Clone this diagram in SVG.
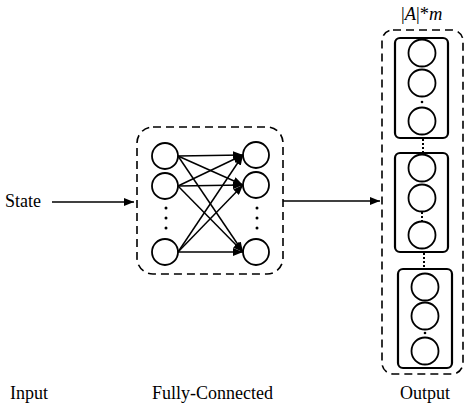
<svg xmlns="http://www.w3.org/2000/svg" width="474" height="410" viewBox="0 0 474 410">
<style>
text{font-family:"Liberation Serif","Times New Roman",serif;font-size:18px;fill:#000}
.it{font-style:italic}
.dash{fill:none;stroke:#000;stroke-width:1.6;stroke-dasharray:8 5}
.box{fill:#fff;stroke:#000;stroke-width:2.2}
.node{fill:#fff;stroke:#000;stroke-width:1.8}
.edge{fill:none;stroke:#000;stroke-width:1.5}
.dots{fill:none;stroke:#000;stroke-width:2;stroke-dasharray:2 2}
.dot{fill:#000}
</style>
<defs>
<marker id="ah" markerUnits="userSpaceOnUse" markerWidth="11" markerHeight="8" refX="10" refY="4" orient="auto">
<path d="M0,0 L10,4 L0,8 Z" fill="#000"/>
</marker>
</defs>
<rect width="474" height="410" fill="#fff"/>

<g id="input">
<text x="5" y="207">State</text>
<text x="10" y="399">Input</text>
</g>

<g id="fully-connected">
<rect class="dash" x="137" y="127" width="146" height="147" rx="16"/>
<circle class="node" cx="165" cy="156" r="13"/>
<circle class="node" cx="165" cy="186" r="13"/>
<circle class="node" cx="165" cy="252" r="13"/>
<circle class="node" cx="256" cy="155" r="13"/>
<circle class="node" cx="256" cy="185" r="13"/>
<circle class="node" cx="256" cy="252" r="13"/>
<circle class="dot" cx="166" cy="208" r="1.5"/>
<circle class="dot" cx="166" cy="218" r="1.5"/>
<circle class="dot" cx="166" cy="228" r="1.5"/>
<circle class="dot" cx="257" cy="208" r="1.5"/>
<circle class="dot" cx="257" cy="218" r="1.5"/>
<circle class="dot" cx="257" cy="228" r="1.5"/>
<text x="152" y="399">Fully-Connected</text>
</g>

<g id="output">
<rect class="dash" x="382" y="30" width="81" height="344" rx="11"/>
<text x="401" y="20" style="font-size:18.5px">|<tspan class="it">A</tspan>|*<tspan class="it">m</tspan></text>
<rect class="box" x="395" y="38" width="53" height="100" rx="5"/>
<circle class="node" cx="422" cy="53" r="13.5"/>
<circle class="node" cx="422" cy="83" r="13.5"/>
<circle class="dot" cx="422" cy="102" r="1.3"/>
<circle class="node" cx="422" cy="121" r="13.5"/>
<path class="dots" d="M423,139 V153"/>
<rect class="box" x="395" y="153" width="53" height="99" rx="5"/>
<circle class="node" cx="422" cy="168" r="13.5"/>
<circle class="node" cx="422" cy="198" r="13.5"/>
<path class="dots" d="M422,212 V222"/>
<circle class="node" cx="422" cy="235" r="13.5"/>
<path class="dots" d="M424,253 V269"/>
<rect class="box" x="398" y="269" width="54" height="99" rx="5"/>
<circle class="node" cx="425" cy="287" r="13.5"/>
<circle class="node" cx="425" cy="316" r="13.5"/>
<circle class="dot" cx="425" cy="333" r="1.3"/>
<circle class="node" cx="425" cy="351" r="13.5"/>
<text x="400" y="399">Output</text>
</g>

<g id="connectors">
<line class="edge" x1="52" y1="202" x2="134" y2="202" marker-end="url(#ah)"/>
<line class="edge" x1="283" y1="201" x2="380" y2="201" marker-end="url(#ah)"/>
<line class="edge" x1="178" y1="156" x2="243" y2="155" marker-end="url(#ah)"/>
<line class="edge" x1="178" y1="156" x2="243" y2="185" marker-end="url(#ah)"/>
<line class="edge" x1="178" y1="156" x2="243" y2="252" marker-end="url(#ah)"/>
<line class="edge" x1="178" y1="186" x2="243" y2="155" marker-end="url(#ah)"/>
<line class="edge" x1="178" y1="186" x2="243" y2="185" marker-end="url(#ah)"/>
<line class="edge" x1="178" y1="186" x2="243" y2="252" marker-end="url(#ah)"/>
<line class="edge" x1="178" y1="252" x2="243" y2="155" marker-end="url(#ah)"/>
<line class="edge" x1="178" y1="252" x2="243" y2="185" marker-end="url(#ah)"/>
<line class="edge" x1="178" y1="252" x2="243" y2="252" marker-end="url(#ah)"/>
</g>
</svg>
